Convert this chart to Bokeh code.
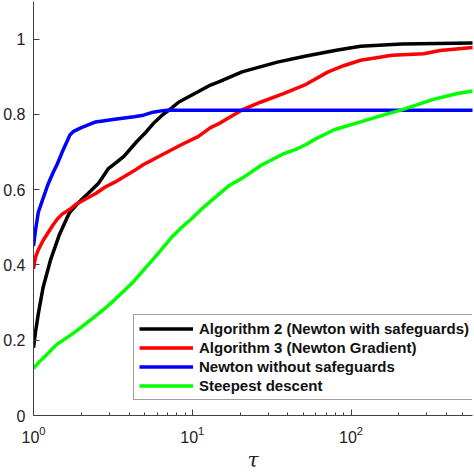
from bokeh.plotting import figure
from bokeh.models import Range1d, FixedTicker, Legend, LegendItem
from bokeh.embed import file_html
from bokeh.resources import INLINE

# Performance profiles: fraction of problems solved within a factor tau of the best solver
tau_alg2 = [1.000, 1.028, 1.072, 1.149, 1.284, 1.454, 1.625, 1.694, 1.866, 2.057, 2.299,
            2.568, 2.951, 3.389, 3.736, 4.474, 5.139, 5.663, 6.507, 7.169, 8.235, 10.87,
            13.02, 14.95, 20.57, 34.37, 52.11, 82.35, 114.9, 208.6, 582.2, 1000.0]
rho_alg2 = [0.18, 0.22, 0.27, 0.34, 0.415, 0.48, 0.525, 0.54, 0.56, 0.578, 0.597,
            0.617, 0.655, 0.675, 0.69, 0.728, 0.754, 0.775, 0.799, 0.812, 0.833, 0.86,
            0.878, 0.888, 0.913, 0.939, 0.955, 0.971, 0.981, 0.987, 0.99, 0.99]

tau_alg3 = [1.000, 1.028, 1.072, 1.149, 1.231, 1.320, 1.414, 1.516, 1.694, 1.866, 2.145,
            2.464, 2.830, 3.251, 3.736, 4.292, 4.930, 5.663, 6.973, 8.585, 10.87, 13.02,
            14.95, 20.57, 27.15, 37.87, 52.11, 71.69, 90.76, 114.9, 181.6, 287.0, 363.3,
            582.2, 1000.0]
rho_alg3 = [0.39, 0.42, 0.44, 0.465, 0.485, 0.505, 0.522, 0.535, 0.548, 0.562, 0.576,
            0.59, 0.607, 0.62, 0.635, 0.65, 0.667, 0.68, 0.70, 0.72, 0.741, 0.765,
            0.777, 0.812, 0.833, 0.856, 0.88, 0.913, 0.93, 0.944, 0.957, 0.961, 0.97,
            0.978, 0.985]

tau_newton = [1.000, 1.028, 1.072, 1.149, 1.231, 1.320, 1.414, 1.516, 1.625, 1.694, 1.791,
              2.001, 2.464, 3.251, 4.292, 4.930, 5.663, 6.507, 6.973, 1000.0]
rho_newton = [0.45, 0.49, 0.54, 0.577, 0.613, 0.643, 0.669, 0.70, 0.728, 0.745, 0.755,
              0.765, 0.78, 0.787, 0.794, 0.798, 0.806, 0.81, 0.811, 0.811]

tau_steep = [1.000, 1.072, 1.149, 1.231, 1.320, 1.414, 1.625, 1.866, 2.145, 2.464, 2.830,
             3.251, 3.736, 4.292, 5.139, 5.663, 6.507, 7.474, 8.585, 9.862, 11.33, 13.02,
             17.18, 20.57, 27.15, 37.87, 45.36, 52.11, 59.84, 79.00, 114.9, 164.8, 208.6,
             329.6, 459.9, 582.2, 1000.0]
rho_steep = [0.125, 0.14, 0.152, 0.165, 0.178, 0.19, 0.207, 0.225, 0.245, 0.265, 0.285,
             0.308, 0.332, 0.357, 0.395, 0.415, 0.445, 0.475, 0.50, 0.522, 0.547, 0.569,
             0.612, 0.63, 0.665, 0.696, 0.708, 0.72, 0.735, 0.76, 0.78, 0.80, 0.812,
             0.84, 0.855, 0.862, 0.875]

series_labels = ["Algorithm 2 (Newton with safeguards)", "Algorithm 3 (Newton Gradient)",
                 "Newton without safeguards", "Steepest descent"]
series_colors = ["#000000", "#ff0000", "#0000ff", "#00ff00"]

x_major = [1, 10, 100]
x_minor = [2, 3, 4, 5, 6, 7, 8, 9, 20, 30, 40, 50, 60, 70, 80, 90,
           200, 300, 400, 500]
y_major = [0, 0.2, 0.4, 0.6, 0.8, 1]

AX = "#404040"
FONT = "Liberation Sans"

p = figure(width=474, height=474, x_axis_type="log",
           x_range=Range1d(1, 582), y_range=Range1d(0, 1.1),
           output_backend="svg", toolbar_location=None,
           min_border_left=32, min_border_right=2, min_border_top=1, min_border_bottom=59)
p.grid.visible = False
p.outline_line_color = None
p.background_fill_color = "white"
p.border_fill_color = "white"

xa = p.xaxis[0]
xa.ticker = FixedTicker(ticks=x_major, minor_ticks=x_minor)
xa.axis_line_color = AX
xa.major_tick_line_color = AX
xa.minor_tick_line_color = AX
xa.major_tick_in = 6
xa.major_tick_out = 0
xa.minor_tick_in = 3
xa.minor_tick_out = 0
xa.major_label_standoff = 10
xa.major_label_text_font = FONT
xa.major_label_text_font_size = "16px"
xa.major_label_text_color = "#222222"
xa.axis_label = "τ"
xa.axis_label_text_font = "DejaVu Serif"
xa.axis_label_text_font_style = "italic"
xa.axis_label_text_font_size = "20px"
xa.axis_label_text_color = "#222222"
xa.axis_label_standoff = 2

ya = p.yaxis[0]
ya.ticker = FixedTicker(ticks=y_major, minor_ticks=[])
ya.major_label_overrides = {0: "0", 1: "1"}
ya.axis_line_color = AX
ya.major_tick_line_color = AX
ya.minor_tick_line_color = None
ya.major_tick_in = 6
ya.major_tick_out = 0
ya.major_label_standoff = 8
ya.major_label_text_font = FONT
ya.major_label_text_font_size = "16px"
ya.major_label_text_color = "#222222"

series = [(tau_alg2, rho_alg2), (tau_alg3, rho_alg3), (tau_newton, rho_newton), (tau_steep, rho_steep)]
items = []
for (tx, ry), lab, col in zip(series, series_labels, series_colors):
    r = p.line(tx, ry, line_width=3.5, line_color=col)
    items.append(LegendItem(label=lab, renderers=[r]))

legend = Legend(items=items, location=(100, 15))
legend.label_text_font = FONT
legend.label_text_font_style = "bold"
legend.label_text_font_size = "15px"
legend.label_text_color = "#111111"
legend.label_standoff = 6
legend.glyph_width = 54
legend.glyph_height = 17
legend.label_height = 17
legend.spacing = 2
legend.padding = 5
legend.margin = 0
legend.border_line_color = AX
legend.border_line_width = 1
legend.background_fill_color = "white"
legend.background_fill_alpha = 1.0
p.add_layout(legend)

open("out.html", "w").write(file_html(p, INLINE))
